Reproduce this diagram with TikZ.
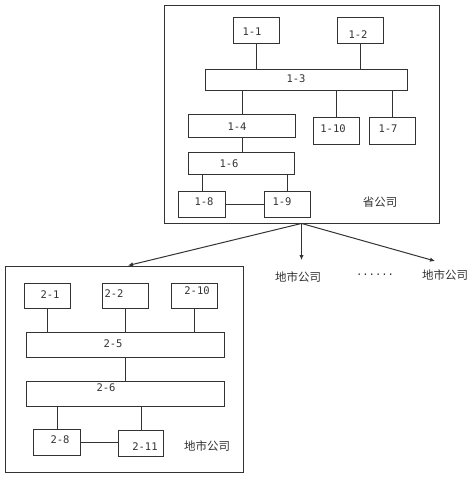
\documentclass[tikz,border=0pt]{standalone}
\usepackage{fontspec}
\setmonofont{DejaVu Sans Mono}
\newfontfamily\cjk{Noto Sans CJK SC}
\usetikzlibrary{arrows.meta}
\definecolor{ln}{HTML}{333333}
\definecolor{tx}{HTML}{333333}
\tikzset{
  box/.style={draw=ln, line width=0.9pt, inner sep=0pt, fill=white},
  lbl/.style={text=tx, font=\ttfamily\fontsize{10.5}{11}\selectfont, inner sep=0pt},
  cn/.style={text=tx, font=\cjk\fontsize{11.5}{12}\selectfont, inner sep=0pt},
  wire/.style={draw=ln, line width=0.9pt},
  arr/.style={draw=ln, line width=1pt, -{Latex[length=5pt,width=4.5pt]}}
}
\begin{document}
\begin{tikzpicture}[x=1pt,y=-1pt]
\useasboundingbox (0,0) rectangle (474,477);
% frames
\node[box, minimum width=275pt, minimum height=218pt] (frame1) at (301.5,114) {};
\node[box, minimum width=238pt, minimum height=206pt] (frame2) at (124,369) {};
% top boxes
\node[box, minimum width=46pt, minimum height=26pt] (b11) at (256,30) {};
\node[box, minimum width=46pt, minimum height=26pt] (b12) at (360,30) {};
\node[box, minimum width=202pt, minimum height=21pt] (b13) at (306,79.5) {};
\node[box, minimum width=107pt, minimum height=23pt] (b14) at (241.5,125.5) {};
\node[box, minimum width=46pt, minimum height=27pt] (b110) at (336,130.5) {};
\node[box, minimum width=46pt, minimum height=27pt] (b17) at (392,130.5) {};
\node[box, minimum width=106pt, minimum height=22pt] (b16) at (241,163) {};
\node[box, minimum width=47pt, minimum height=26pt] (b18) at (201.5,204) {};
\node[box, minimum width=46pt, minimum height=26pt] (b19) at (287,204) {};
% bottom boxes
\node[box, minimum width=46pt, minimum height=25pt] (b21) at (47,295.5) {};
\node[box, minimum width=46pt, minimum height=25pt] (b22) at (125,295.5) {};
\node[box, minimum width=46pt, minimum height=25pt] (b210) at (194,295.5) {};
\node[box, minimum width=198pt, minimum height=25pt] (b25) at (125,344.5) {};
\node[box, minimum width=198pt, minimum height=25pt] (b26) at (125,393.5) {};
\node[box, minimum width=47pt, minimum height=26pt] (b28) at (56.5,442) {};
\node[box, minimum width=45pt, minimum height=26pt] (b211) at (140.5,443) {};
% labels
\node[lbl] (t11) at (252,32) {1-1};
\node[lbl] (t12) at (358,35) {1-2};
\node[lbl] (t13) at (296,79) {1-3};
\node[lbl] (t14) at (237,127) {1-4};
\node[lbl] (t110) at (333,129) {1-10};
\node[lbl] (t17) at (388,129) {1-7};
\node[lbl] (t16) at (229,164) {1-6};
\node[lbl] (t18) at (204,202) {1-8};
\node[lbl] (t19) at (282,202) {1-9};
\node[cn] (tsheng) at (380,202) {省公司};
\node[lbl] (t21) at (50,295) {2-1};
\node[lbl] (t22) at (114,294) {2-2};
\node[lbl] (t210) at (197,291) {2-10};
\node[lbl] (t25) at (113,344) {2-5};
\node[lbl] (t26) at (106,388) {2-6};
\node[lbl] (t28) at (60,440) {2-8};
\node[lbl] (t211) at (145,447) {2-11};
\node[cn] (tdi1) at (207,446) {地市公司};
\node[cn] (tdi2) at (298,277) {地市公司};
\node[lbl] (tdots) at (375,275) {......};
\node[cn] (tdi3) at (445,275) {地市公司};
% top connectors
\draw[wire] (b11.south) -- (b11.south |- b13.north);
\draw[wire] (b12.south) -- (b12.south |- b13.north);
\draw[wire] ([xshift=0.5pt]b14.north) -- ([xshift=0.5pt]b14.north |- b13.south);
\draw[wire] (b110.north) -- (b110.north |- b13.south);
\draw[wire] (b17.north) -- (b17.north |- b13.south);
\draw[wire] ([xshift=1pt]b14.south) -- ([xshift=1pt]b14.south |- b16.north);
\draw[wire] ([xshift=-39pt]b16.south) -- ([xshift=-39pt]b16.south |- b18.north);
\draw[wire] ([xshift=46pt]b16.south) -- ([xshift=46pt]b16.south |- b19.north);
\draw[wire] (b18.east) -- (b18.east -| b19.west);
% bottom connectors
\draw[wire] (b21.south) -- (b21.south |- b25.north);
\draw[wire] (b22.south) -- (b22.south |- b25.north);
\draw[wire] (b210.south) -- (b210.south |- b25.north);
\draw[wire] (b25.south) -- (b26.north);
\draw[wire] ([xshift=-68pt]b26.south) -- ([xshift=-68pt]b26.south |- b28.north);
\draw[wire] ([xshift=16pt]b26.south) -- ([xshift=16pt]b26.south |- b211.north);
\draw[wire] (b28.east) -- (b28.east -| b211.west);
% arrows
\coordinate (amid) at (301.5,260);
\coordinate (aright) at (435,261);
\draw[arr] (frame1.south) -- ([xshift=4pt]frame2.north);
\draw[arr] (frame1.south) -- (amid);
\draw[arr] (frame1.south) -- (aright);
\end{tikzpicture}
\end{document}
